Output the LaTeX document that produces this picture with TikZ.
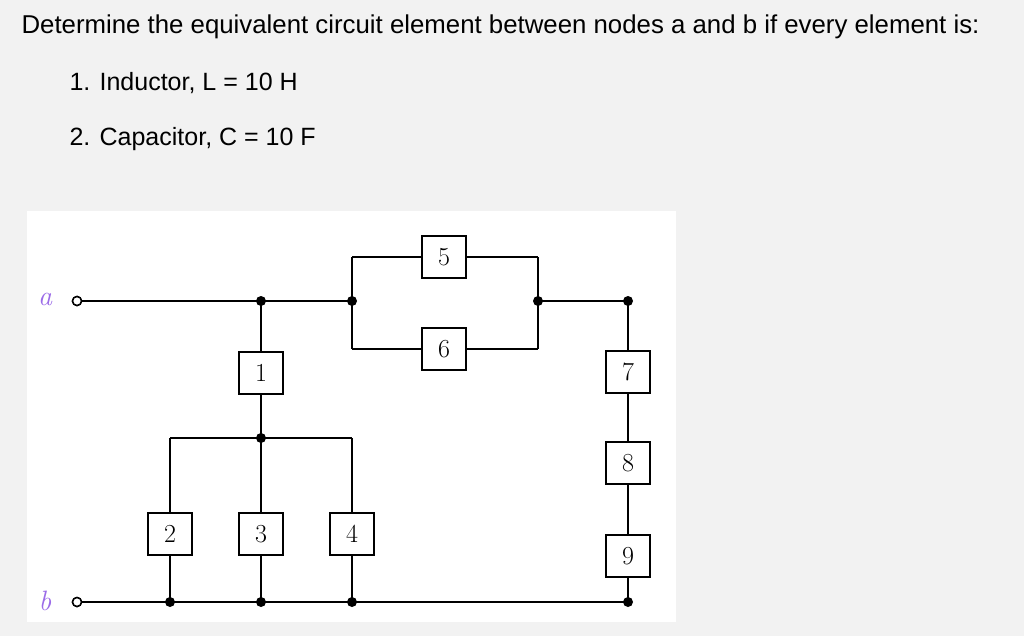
\documentclass[tikz,border=0pt]{standalone}
\usepackage{fontspec}
\setmainfont{Liberation Sans}
\newfontfamily\lmfont{Latin Modern Roman}
\definecolor{lblc}{HTML}{9B6BE8}
\begin{document}
\begin{tikzpicture}[x=1pt,y=-1pt,
  box/.style={draw,line width=1.6pt,fill=white,minimum width=44pt,minimum height=42pt,inner sep=0pt,font=\lmfont\fontsize{26}{26}\selectfont},
  w/.style={line width=2pt},
  dot/.style={circle,fill=black,inner sep=0pt,minimum size=10pt},
  term/.style={circle,draw,line width=1.5pt,fill=white,inner sep=0pt,minimum size=9pt},
  lbl/.style={text=lblc,font=\lmfont\itshape\fontsize{28}{28}\selectfont}]
\fill[black!5] (0,0) rectangle (1024,636);
\useasboundingbox (0,0) rectangle (1024,636);
\fill[white] (27,211) rectangle (676,622);
\node[anchor=west,font=\fontsize{25.8}{26}\selectfont] (t) at (18,27) {Determine the equivalent circuit element between nodes a and b if every element is:};
\node[anchor=west,font=\fontsize{25}{25}\selectfont] (i1) at (66,83) {1. Inductor, L = 10 H};
\node[anchor=west,font=\fontsize{25}{25}\selectfont] (i2) at (66,139) {2. Capacitor, C = 10 F};
\node[term] (a) at (77,301) {};
\node[term] (b) at (77,602) {};
\node[lbl] (la) at (45,299) {a};
\node[lbl] (lb) at (45,601) {b};
\coordinate (j1) at (261,301);
\coordinate (j2) at (352,301);
\coordinate (j3) at (538,301);
\coordinate (j4) at (628,301);
\coordinate (jm) at (261,438);
\coordinate (b2) at (170,602);
\coordinate (b3) at (261,602);
\coordinate (b4) at (352,602);
\coordinate (b9) at (628,602);
\coordinate (p5l) at (352,257);
\coordinate (p5r) at (538,257);
\coordinate (p6l) at (352,349);
\coordinate (p6r) at (538,349);
\coordinate (m2) at (170,438);
\coordinate (m4) at (352,438);
\draw[w] (a) -- (j1) -- (j2);
\draw[w] (j3) -- (j4);
\draw[w] (b) -- (b9);
\draw[w] (p5l) -- (p6l);
\draw[w] (p5r) -- (p6r);
\draw[w] (m2) -- (m4);
\node[box] (e5) at (444,257) {5};
\node[box] (e6) at (444,349) {6};
\node[box] (e1) at (261,373) {1};
\node[box] (e2) at (170,534) {2};
\node[box] (e3) at (261,534) {3};
\node[box] (e4) at (352,534) {4};
\node[box] (e7) at (628,372) {7};
\node[box] (e8) at (628,463) {8};
\node[box] (e9) at (628,556) {9};
\draw[w] (p5l) -- (e5) -- (p5r);
\draw[w] (p6l) -- (e6) -- (p6r);
\draw[w] (j1) -- (e1) -- (jm) -- (e3) -- (b3);
\draw[w] (m2) -- (e2) -- (b2);
\draw[w] (m4) -- (e4) -- (b4);
\draw[w] (j4) -- (e7) -- (e8) -- (e9) -- (b9);
\foreach \p in {j1,j2,j3,j4,jm,b2,b3,b4,b9} \node[dot] at (\p) {};
\node[term] at (a) {};
\node[term] at (b) {};
\end{tikzpicture}
\end{document}
